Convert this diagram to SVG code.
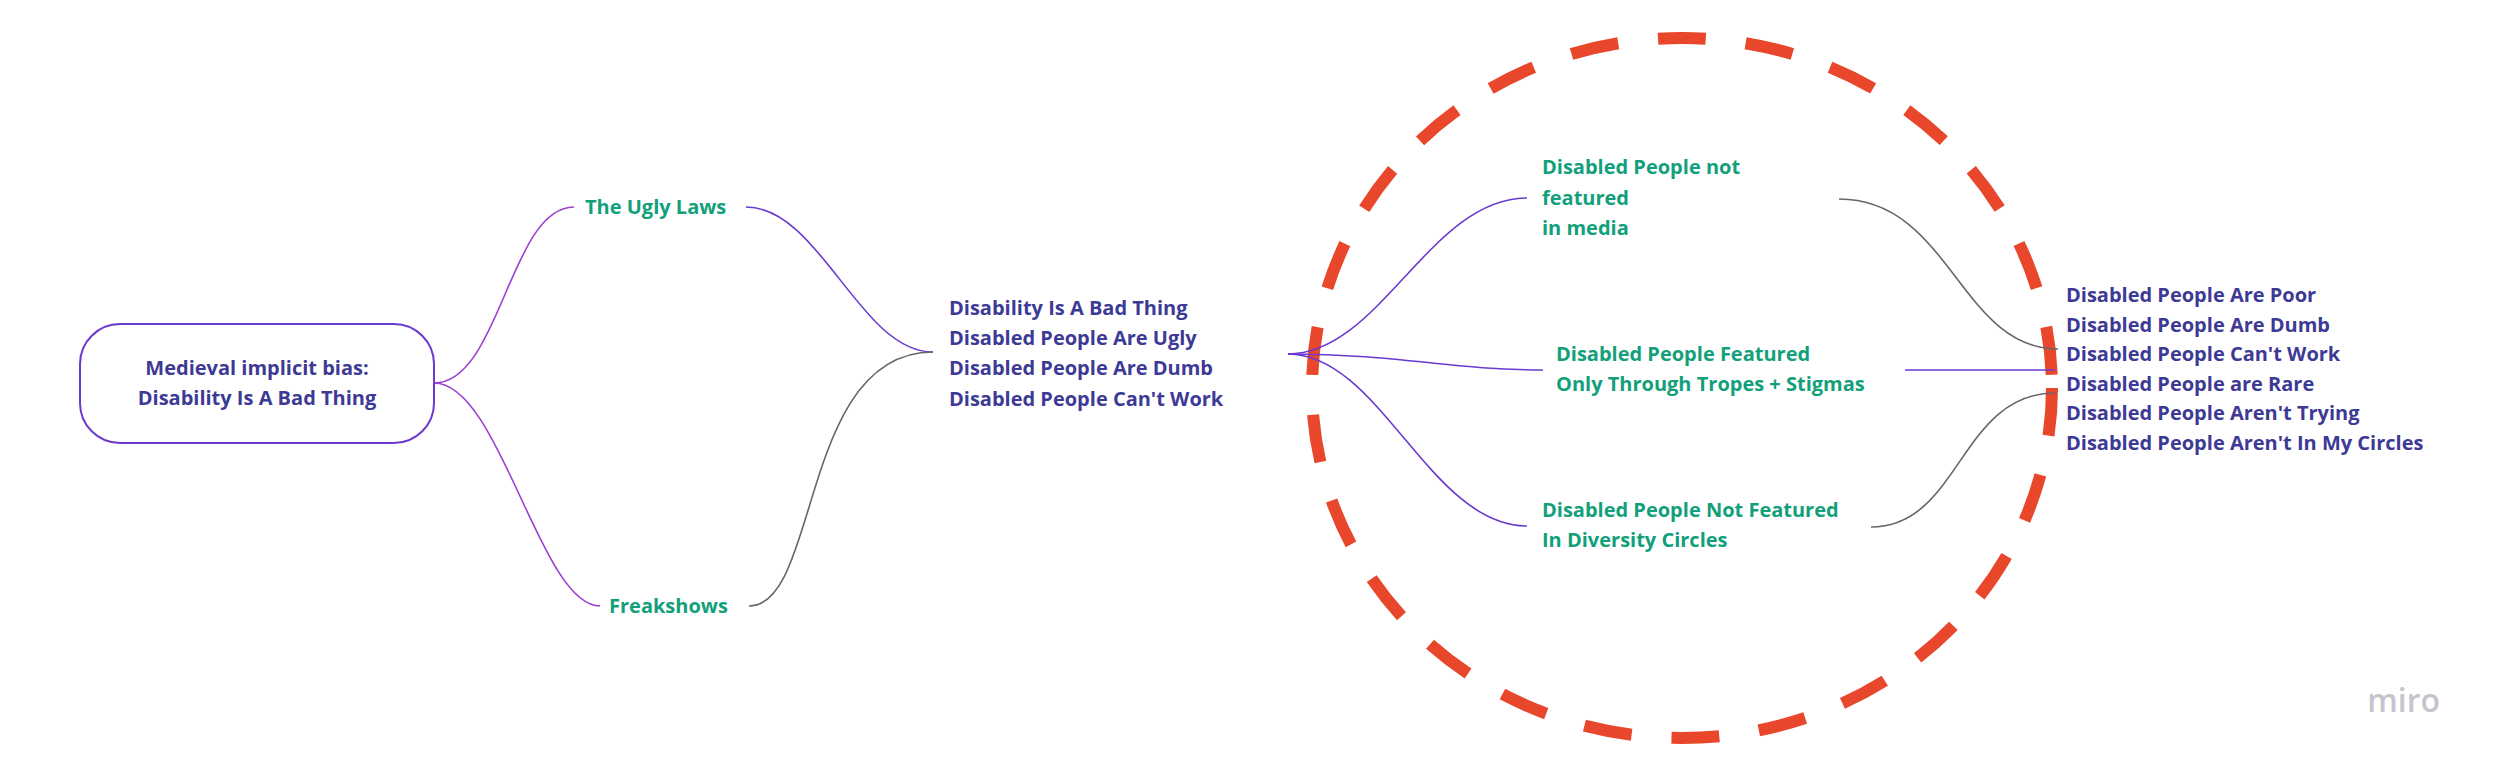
<svg xmlns="http://www.w3.org/2000/svg" width="2500" height="769" viewBox="0 0 2500 769">
<style>
text{font-family:"Open Sans","Liberation Sans",sans-serif;font-weight:bold;font-size:20px}
.b{fill:#3d3a96}.g{fill:#12a07a}
.c{fill:none;stroke-width:1.6}
.p{stroke:#9a3fd4}.v{stroke:#6a3ad0}.y{stroke:#666}
</style>
<rect width="2500" height="769" fill="#fff"/>
<ellipse cx="1682" cy="388" rx="370" ry="350" fill="none" stroke="#e8472b" stroke-width="12" stroke-dasharray="48 40"/>
<g id="connectors">
<path class="c p" d="M434,383 C500,383 510,207 574,207"/>
<path class="c p" d="M434,383 C500,383 540,606 600,606"/>
<path class="c v" d="M746,207 C820,207 860,352 933,352"/>
<path class="c y" d="M749,606 C820,606 800,352 933,352"/>
<path class="c v" d="M1288,354 C1380,354 1430,198 1527,198"/>
<path class="c v" d="M1288,354 C1400,354 1450,370 1543,370"/>
<path class="c v" d="M1288,354 C1380,354 1430,526 1527,526"/>
<path class="c y" d="M1839,199 C1950,199 1960,349 2058,349"/>
<path class="c v" d="M1905,370 L2055,370"/>
<path class="c y" d="M1871,527 C1960,527 1960,393 2055,393"/>
</g>
<g id="root"><rect x="80" y="324" width="354" height="119" rx="40" fill="#fff" stroke="#6a3ad0" stroke-width="2"/>
<text class="b" x="257" y="375" text-anchor="middle">Medieval implicit bias:</text>
<text class="b" x="257" y="405" text-anchor="middle">Disability Is A Bad Thing</text></g>
<g id="ugly"><text class="g" x="585" y="214">The Ugly Laws</text></g>
<g id="freak"><text class="g" x="609" y="613">Freakshows</text></g>
<g id="mid">
<text class="b" x="949" y="315">Disability Is A Bad Thing</text>
<text class="b" x="949" y="345">Disabled People Are Ugly</text>
<text class="b" x="949" y="375">Disabled People Are Dumb</text>
<text class="b" x="949" y="406">Disabled People Can't Work</text></g>
<g id="media">
<text class="g" x="1542" y="174">Disabled People not</text>
<text class="g" x="1542" y="205">featured</text>
<text class="g" x="1542" y="235"> in media</text></g>
<g id="tropes">
<text class="g" x="1556" y="361">Disabled People Featured</text>
<text class="g" x="1556" y="391">Only Through Tropes + Stigmas</text></g>
<g id="diversity">
<text class="g" x="1542" y="517">Disabled People Not Featured</text>
<text class="g" x="1542" y="547">In Diversity Circles</text></g>
<g id="right">
<text class="b" x="2066" y="302">Disabled People Are Poor</text>
<text class="b" x="2066" y="332">Disabled People Are Dumb</text>
<text class="b" x="2066" y="361">Disabled People Can't Work</text>
<text class="b" x="2066" y="391">Disabled People are Rare</text>
<text class="b" x="2066" y="420">Disabled People Aren't Trying</text>
<text class="b" x="2066" y="450">Disabled People Aren't In My Circles</text></g>
<text x="2440" y="712" text-anchor="end" style="font-size:32px;font-weight:600;fill:#c4c4cc">miro</text>
</svg>
